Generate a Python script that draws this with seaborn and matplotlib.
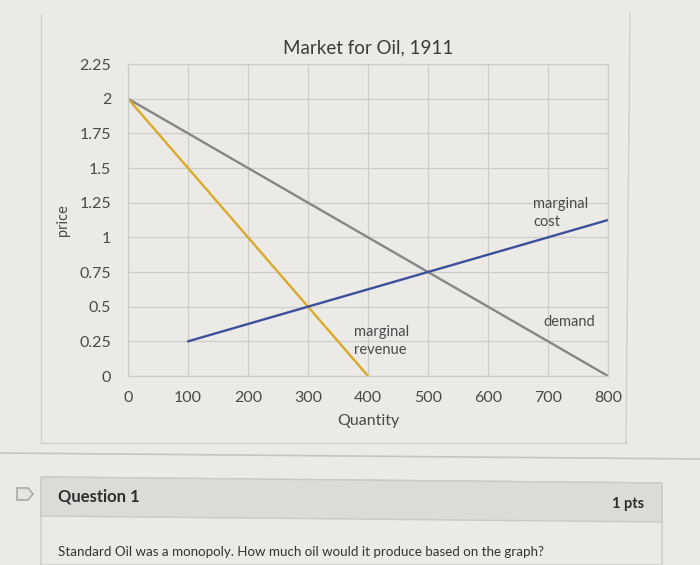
import matplotlib
matplotlib.use("Agg")
import matplotlib.pyplot as plt
import matplotlib.patches as mpatches
import pandas as pd
import seaborn as sns

# curves (quantity, price)
demand_q = [0, 800]
demand_p = [2.0, 0.0]
mr_q = [0, 400]
mr_p = [2.0, 0.0]
mc_q = [100, 800]
mc_p = [0.25, 1.125]

x_ticks = [0, 100, 200, 300, 400, 500, 600, 700, 800]
y_ticks = [0, 0.25, 0.5, 0.75, 1, 1.25, 1.5, 1.75, 2, 2.25]
y_tick_labels = ["0", "0.25", "0.5", "0.75", "1", "1.25", "1.5", "1.75", "2", "2.25"]

bg = "#ebeae6"
grid_col = "#cdcdca"
text_col = "#4a4a4a"

sns.set_theme(style="whitegrid")
plt.rcParams["font.family"] = ["Lato", "DejaVu Sans"]

fig = plt.figure(figsize=(7, 5.65), dpi=100)
fig.patch.set_facecolor(bg)

W, H = 700, 565
def fx(px):
    return px / W
def fy(py):
    return 1 - py / H

ax = fig.add_axes([fx(128), fy(376), fx(608) - fx(128), fy(64) - fy(376)])
ax.set_facecolor(bg)

df = pd.concat([
    pd.DataFrame({"q": demand_q, "p": demand_p, "curve": "demand"}),
    pd.DataFrame({"q": mr_q, "p": mr_p, "curve": "marginal revenue"}),
    pd.DataFrame({"q": mc_q, "p": mc_p, "curve": "marginal cost"}),
])
palette = {"demand": "#868686", "marginal revenue": "#d9a928", "marginal cost": "#3d4f9c"}
sns.lineplot(data=df, x="q", y="p", hue="curve", palette=palette, linewidth=1.7,
             legend=False, ax=ax, estimator=None, sort=False)

ax.set_xlim(0, 800)
ax.set_ylim(0, 2.25)
ax.set_xticks(x_ticks)
ax.set_yticks(y_ticks)
ax.set_yticklabels(y_tick_labels)
ax.grid(True, color=grid_col, linewidth=0.9)
for s in ax.spines.values():
    s.set_color(grid_col)
    s.set_linewidth(0.9)
ax.tick_params(axis="y", length=0, pad=12, labelsize=11.5, labelcolor=text_col)
ax.tick_params(axis="x", length=0, pad=11, labelsize=11.5, labelcolor=text_col)
ax.set_xlabel("Quantity", fontsize=11.5, color=text_col, labelpad=6)
ax.set_ylabel("price", fontsize=10.5, color=text_col, labelpad=7)
ax.set_title("Market for Oil, 1911", fontsize=13.5, color="#3a3a3a", pad=8)

ax.text(675, 1.175, "marginal\ncost", fontsize=10.5, color=text_col, va="center", ha="left", linespacing=1.35)
ax.text(693, 0.39, "demand", fontsize=10.5, color=text_col, va="center", ha="left")
ax.text(376, 0.25, "marginal\nrevenue", fontsize=10.5, color=text_col, va="center", ha="left", linespacing=1.35)

# page elements around the chart
def px_line(x0, y0, x1, y1, **kw):
    fig.add_artist(plt.Line2D([fx(x0), fx(x1)], [fy(y0), fy(y1)], transform=fig.transFigure, **kw))

px_line(41, 14, 41, 443, color="#cfcfcc", linewidth=1)
px_line(630, 13, 626, 443, color="#cfcfcc", linewidth=1)
px_line(41, 443, 626, 443, color="#cfcfcc", linewidth=1)
px_line(0, 453, 700, 459, color="#c4c4c1", linewidth=1.2)

# question card
card = mpatches.Polygon([(fx(41), fy(477)), (fx(662), fy(483)), (fx(662), fy(565)), (fx(41), fy(565))],
                        closed=True, transform=fig.transFigure, facecolor=bg, edgecolor="#c9c9c6", linewidth=1)
fig.add_artist(card)
header = mpatches.Polygon([(fx(41), fy(477)), (fx(662), fy(483)), (fx(662), fy(522)), (fx(41), fy(516))],
                          closed=True, transform=fig.transFigure, facecolor="#dcdbd7", edgecolor="#c9c9c6", linewidth=1)
fig.add_artist(header)
icon = mpatches.Polygon([(fx(17), fy(488)), (fx(28), fy(488)), (fx(33), fy(494)), (fx(28), fy(500)), (fx(17), fy(500))],
                        closed=True, transform=fig.transFigure, facecolor="#e4e4e1", edgecolor="#a9a9a6", linewidth=1.2)
fig.add_artist(icon)

fig.text(fx(58), fy(497), "Question 1", fontsize=12, fontweight="bold", color="#2d2d2d", va="center", ha="left")
fig.text(fx(644), fy(504), "1 pts", fontsize=10.5, fontweight="bold", color="#2d2d2d", va="center", ha="right")
fig.text(fx(58), fy(552), "Standard Oil was a monopoly. How much oil would it produce based on the graph?",
         fontsize=9.6, color="#333333", va="center", ha="left")

fig.savefig("out.png", dpi=100, facecolor=bg)
